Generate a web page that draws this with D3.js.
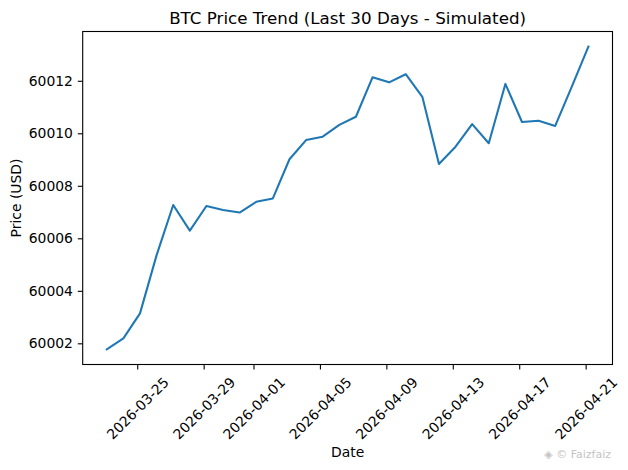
<!DOCTYPE html>
<html>
<head>
  <meta charset="utf-8">
  <title>BTC Price Trend</title>
  <script src="https://cdn.jsdelivr.net/npm/d3@7"></script>
  <style>
    body { margin: 0; background: #fff; }
    text { font-family: "DejaVu Sans", sans-serif; fill: #000; }
  </style>
</head>
<body>
<svg id="chart" width="628" height="470"></svg>
<script>
  // data (30 daily points, ~04:00 each day)
  var startDay = "2026-03-23T04:00:00";
  var prices = [
    60001.77, 60002.19, 60003.14, 60005.36, 60007.27, 60006.29, 60007.23, 60007.08,
    60006.98, 60007.39, 60007.52, 60009.01, 60009.74, 60009.87, 60010.32, 60010.63,
    60012.13, 60011.94, 60012.25, 60011.39, 60008.83, 60009.49, 60010.35, 60009.62,
    60011.88, 60010.43, 60010.48, 60010.28, 60011.78, 60013.30
  ];
  var xTickLabels = ["2026-03-25", "2026-03-29", "2026-04-01", "2026-04-05",
                     "2026-04-09", "2026-04-13", "2026-04-17", "2026-04-21"];
  var yTickValues = [60002, 60004, 60006, 60008, 60010, 60012];

  var parseDay = d3.timeParse("%Y-%m-%d");
  var t0 = d3.isoParse(startDay);
  var data = prices.map(function(p, i) {
    return { date: d3.timeDay.offset(t0, i), price: p };
  });

  // layout (matplotlib-like); note: "top" is reserved on window
  var axLeft = 82.7, axRight = 612.5, axTop = 31.5, axBottom = 364.5;
  var tickLen = 4.9, pad = 4.9, fs = 13.9;

  var svg = d3.select("#chart");

  // scales with 5% margins
  var xExt = d3.extent(data, function(d) { return d.date; });
  var xSpan = xExt[1] - xExt[0];
  var x = d3.scaleTime()
    .domain([new Date(+xExt[0] - xSpan * 0.05), new Date(+xExt[1] + xSpan * 0.05)])
    .range([axLeft, axRight]);

  var yExt = d3.extent(data, function(d) { return d.price; });
  var ySpan = yExt[1] - yExt[0];
  var y = d3.scaleLinear()
    .domain([yExt[0] - ySpan * 0.05, yExt[1] + ySpan * 0.05])
    .range([axBottom, axTop]);

  // line
  var line = d3.line()
    .x(function(d) { return x(d.date); })
    .y(function(d) { return y(d.price); });

  svg.append("path")
    .datum(data)
    .attr("d", line)
    .attr("fill", "none")
    .attr("stroke", "#1f77b4")
    .attr("stroke-width", 2.08)
    .attr("stroke-linejoin", "round")
    .attr("stroke-linecap", "square");

  // frame
  svg.append("rect")
    .attr("x", axLeft).attr("y", axTop)
    .attr("width", axRight - axLeft).attr("height", axBottom - axTop)
    .attr("fill", "none")
    .attr("stroke", "#000")
    .attr("stroke-width", 1.1);

  // x axis
  var xTicks = xTickLabels.map(function(s) { return parseDay(s); });
  var xAxis = d3.axisBottom(x)
    .tickValues(xTicks)
    .tickSize(tickLen)
    .tickFormat(d3.timeFormat("%Y-%m-%d"));

  var gx = svg.append("g")
    .attr("transform", "translate(0," + axBottom + ")")
    .call(xAxis);
  gx.select(".domain").remove();
  gx.selectAll(".tick line").attr("stroke", "#000").attr("stroke-width", 1.1);
  // rotated labels, box centred on the tick like matplotlib
  var boxHalf = 34;
  gx.selectAll(".tick text")
    .attr("font-size", fs)
    .attr("font-family", "DejaVu Sans")
    .attr("fill", "#000")
    .attr("text-anchor", "middle")
    .attr("dy", "0.35em")
    .attr("y", 0)
    .attr("transform", "translate(0," + (tickLen + pad + boxHalf) + ") rotate(-45)");

  // y axis
  var yAxis = d3.axisLeft(y)
    .tickValues(yTickValues)
    .tickSize(tickLen)
    .tickPadding(pad)
    .tickFormat(d3.format("d"));

  var gy = svg.append("g")
    .attr("transform", "translate(" + axLeft + ",0)")
    .call(yAxis);
  gy.select(".domain").remove();
  gy.selectAll(".tick line").attr("stroke", "#000").attr("stroke-width", 1.1);
  gy.selectAll(".tick text")
    .attr("font-size", fs)
    .attr("font-family", "DejaVu Sans")
    .attr("fill", "#000");

  // title and labels
  svg.append("text")
    .attr("x", (axLeft + axRight) / 2)
    .attr("y", 23.5)
    .attr("text-anchor", "middle")
    .attr("font-size", 16.7)
    .text("BTC Price Trend (Last 30 Days - Simulated)");

  svg.append("text")
    .attr("x", (axLeft + axRight) / 2)
    .attr("y", 457)
    .attr("text-anchor", "middle")
    .attr("font-size", fs)
    .text("Date");

  svg.append("text")
    .attr("transform", "translate(20.5," + ((axTop + axBottom) / 2) + ") rotate(-90)")
    .attr("text-anchor", "middle")
    .attr("font-size", fs)
    .text("Price (USD)");

  // watermark
  svg.append("text")
    .attr("x", 611)
    .attr("y", 458)
    .attr("text-anchor", "end")
    .attr("font-size", 11)
    .style("fill", "#c4c4c4")
    .text("◈ © Faizfaiz");
</script>
</body>
</html>
